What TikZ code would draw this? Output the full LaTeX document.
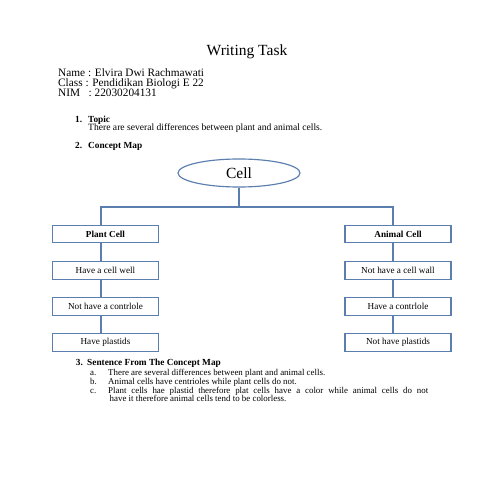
\documentclass[tikz,border=0pt]{standalone}
\usepackage{fontspec}
\setmainfont{Liberation Serif}
\usetikzlibrary{shapes.geometric}
\definecolor{linec}{HTML}{5A7EAD}
\tikzset{
  x=1pt,y=1pt,
  lbl/.style={anchor=base west, inner sep=0pt},
  fbody/.style={font=\fontsize{8.9}{10.5}\selectfont},
  fhead/.style={font=\fontsize{9.3}{11}\selectfont\bfseries},
  box/.style={draw=linec, line width=1.15pt, minimum width=106pt, minimum height=17.5pt, inner sep=0pt, fill=white, font=\fontsize{9.2}{11}\selectfont},
  conn/.style={draw=linec, line width=1.6pt},
}
\begin{document}
\begin{tikzpicture}
\useasboundingbox[fill=white] (0,0) rectangle (495,-495);
% header
\node[anchor=base, inner sep=0pt, font=\fontsize{15.5}{18}\selectfont] (title) at (247,-56) {Writing Task};
\node[lbl, font=\fontsize{11.3}{13}\selectfont] (name) at (58,-76) {Name : Elvira Dwi Rachmawati};
\node[lbl, font=\fontsize{11.3}{13}\selectfont] (class) at (58,-86) {Class : Pendidikan Biologi E 22};
\node[lbl, font=\fontsize{11.3}{13}\selectfont] (nim) at (58,-96) {NIM\ \ \ : 22030204131};
% section 1
\node[lbl, fhead] (n1) at (75,-122) {1.};
\node[lbl, fhead] (topic) at (88,-122) {Topic};
\node[lbl, font=\fontsize{9.6}{11}\selectfont] (topict) at (88,-130.5) {There are several differences between plant and animal cells.};
% section 2
\node[lbl, fhead] (n2) at (75,-148) {2.};
\node[lbl, fhead] (cmap) at (88,-148) {Concept Map};
% concept map
\node[ellipse, draw=linec, line width=1.15pt, minimum width=122pt, minimum height=28pt, inner sep=0pt, font=\fontsize{15.5}{18}\selectfont] (cell) at (239,-173) {Cell};
\coordinate (hl) at (101,-207);
\coordinate (hr) at (393,-207);
\node[box] (p1) at (105.5,-234) {\bfseries Plant Cell};
\node[box] (p2) at (105.5,-270.5) {Have a cell well};
\node[box] (p3) at (105.5,-306.5) {Not have a contrlole};
\node[box] (p4) at (105.5,-342.5) {Have plastids};
\node[box] (a1) at (398,-234) {\bfseries Animal Cell};
\node[box] (a2) at (398,-270.5) {Not have a cell wall};
\node[box] (a3) at (398,-306.5) {Have a contrlole};
\node[box] (a4) at (398,-342.5) {Not have plastids};
\draw[conn] (cell.south) -- (cell.south |- hl);
\draw[conn] (p1.north -| hl) -- (hl) -- (hr) -- (a1.north -| hr);
\draw[conn] (p1.south -| hl) -- (p2.north -| hl);
\draw[conn] (p2.south -| hl) -- (p3.north -| hl);
\draw[conn] (p3.south -| hl) -- (p4.north -| hl);
\draw[conn] (a1.south -| hr) -- (a2.north -| hr);
\draw[conn] (a2.south -| hr) -- (a3.north -| hr);
\draw[conn] (a3.south -| hr) -- (a4.north -| hr);
% section 3
\node[lbl, fhead] (n3) at (75.7,-365.5) {3.};
\node[lbl, fhead] (sent) at (87,-365.5) {Sentence From The Concept Map};
\node[lbl, fbody] (la) at (90,-375) {a.};
\node[lbl, fbody] (ta) at (108,-375) {There are several differences between plant and animal cells.};
\node[lbl, fbody] (lb) at (90,-384) {b.};
\node[lbl, fbody] (tb) at (108,-384) {Animal cells have centrioles while plant cells do not.};
\node[lbl, fbody] (lc) at (90,-393) {c.};
\node[lbl, fbody] (tc) at (108,-393) {\makebox[320pt][s]{Plant cells hae plastid therefore plat cells have a color while animal cells do not}};
\node[lbl, fbody] (td) at (109.5,-401.7) {have it therefore animal cells tend to be colorless.};
\end{tikzpicture}
\end{document}
